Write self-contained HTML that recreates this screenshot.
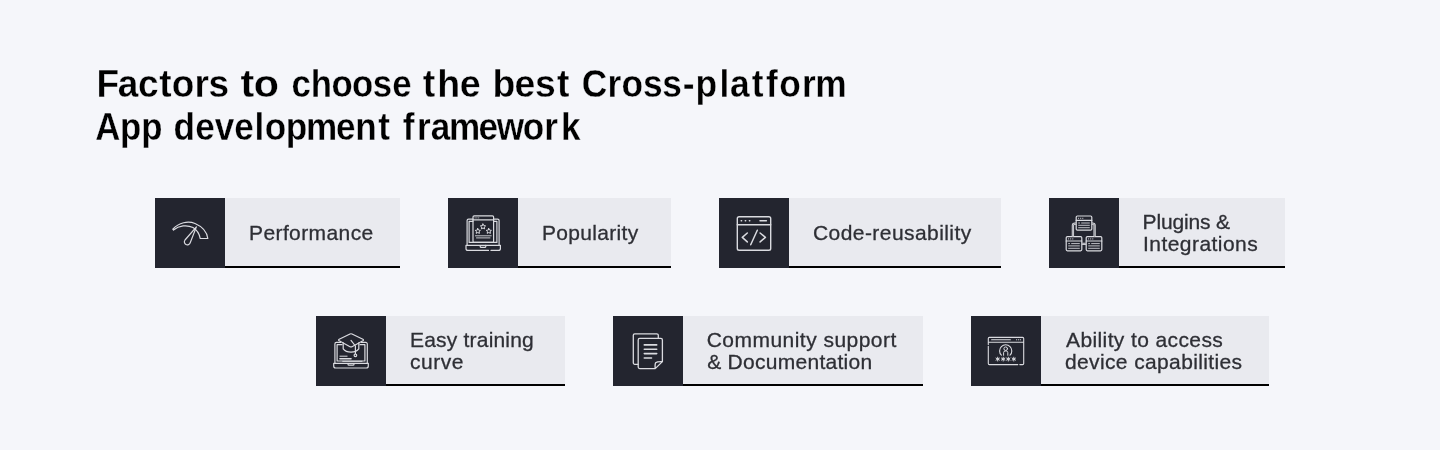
<!DOCTYPE html>
<html lang="en">
<head>
<meta charset="utf-8">
<title>Factors to choose the best Cross-platform App development framework</title>
<style>
*{box-sizing:border-box;margin:0;padding:0}
html,body{width:1440px;height:450px;overflow:hidden}
body{background:#f5f6fa;position:relative;font-family:"Liberation Sans",sans-serif;color:#2e2f35}
h2{position:absolute;left:0;top:0;width:1440px;height:160px;font-weight:700;font-size:38px;line-height:0}
h2 svg{display:block;overflow:visible;will-change:transform}
h2 text{font-family:"Liberation Sans",sans-serif;font-weight:700;font-size:38px;fill:#000;stroke:#f5f6fa;stroke-width:.3px}
.card{position:absolute;height:70px;display:flex;background:#e9eaef;border-bottom:2px solid #000}
.ico{width:70px;height:70px;background:#23252f;flex:none}
.ico svg{display:block;width:70px;height:70px;fill:none;stroke:#dadbe0;stroke-width:1.2;stroke-linecap:round;stroke-linejoin:round}
.txt{-webkit-text-stroke:.3px #2e2f35;position:relative;flex:1;height:68px;font-size:21px;line-height:22px;white-space:nowrap;will-change:transform}
.txt span{position:absolute;display:block}
</style>
</head>
<body>
<h2><svg width="1440" height="160" viewBox="0 0 1440 160">
<text transform="translate(0 97) scale(0.974 1)" x="99.0 120.9 141.6 163.5 176.3 199.6 214.0">Factors</text>
<text transform="translate(0 97) scale(1.085 1)" x="221.7 233.8">to</text>
<text transform="translate(0 97) scale(0.915 1)" x="318.6 339.7 362.3 384.8 407.4 428.7">choose</text>
<text transform="translate(0 97) scale(0.989 1)" x="427.4 442.1 464.9">the</text>
<text transform="translate(0 97) scale(0.980 1)" x="502.5 524.9 546.0 568.5">best</text>
<text transform="translate(0 97) scale(0.930 1)" x="625.5 653.2 668.3 691.4 712.2 734.2 747.8 773.7 784.9 808.3 823.6 838.0 862.3 876.5">Cross-platform</text>
<text transform="translate(0 140) scale(0.915 1)" x="104.1 131.2 154.4">App</text>
<text transform="translate(0 140) scale(0.925 1)" x="187.6 211.0 232.3 253.2 275.2 286.2 308.9 330.8 363.3 384.0 408.8">development</text>
<text transform="translate(0 140) scale(0.925 1)" x="435.4 450.7 465.7 485.4 517.2 537.1 565.2 588.4 606.6">framework</text>
</svg></h2>

<div class="card" style="left:155px;top:198px;width:245px"><div class="ico"><svg viewBox="0 0 70 70">
<path d="M17.8 31.2C24 24.5 33 22.5 40 25.5C47 28.5 52 34 52.8 40.5L45.2 40.5C44.5 36 42 32 38 29.5C32 26.5 24 27.5 18.5 32Z"/>
<path d="M41.4 28.9L35.2 44.8A3 3 0 1 1 30 42Z"/>
</svg></div><div class="txt"><span style="left:24px;top:24px;letter-spacing:.4px">Performance</span></div></div>

<div class="card" style="left:448px;top:198px;width:223px"><div class="ico"><svg viewBox="0 0 70 70">
<path d="M25 21.1H20.6A1.5 1.5 0 0 0 19.1 22.6V47.2M45.6 21.1H49.6A1.5 1.5 0 0 1 51.1 22.6V47.2M25 23.3H21.1V44.4H48.9V23.3H45.6"/>
<rect x="25" y="17.8" width="20.6" height="26.6" rx="1.2"/>
<path d="M25 21.9H45.6"/><path d="M27.4 37.8H43.2M28.5 39.9H42" stroke-width=".9"/><path d="M27 19.9h.2M28.8 19.9h.2M30.6 19.9h.2" stroke-width=".9"/>
<path d="M18 47.3H52.4V50.4A2 2 0 0 1 50.4 52.4H43M40.5 52.4H20A2 2 0 0 1 18 50.4V47.3M32.2 47.3V48.4A1 1 0 0 0 33.2 49.4H36.8A1 1 0 0 0 37.8 48.4V47.2"/>
<g stroke-width="1"><path d="M35 26l.8 1.6 1.8.3-1.3 1.2.3 1.8-1.6-.9-1.6.9.3-1.8-1.3-1.2 1.8-.3Z"/><path d="M29.8 30.5l.8 1.6 1.8.3-1.3 1.2.3 1.8-1.6-.9-1.6.9.3-1.8-1.3-1.2 1.8-.3Z"/><path d="M40.8 30.5l.8 1.6 1.8.3-1.3 1.2.3 1.8-1.6-.9-1.6.9.3-1.8-1.3-1.2 1.8-.3Z"/></g>
</svg></div><div class="txt"><span style="left:24px;top:24px;letter-spacing:.32px">Popularity</span></div></div>

<div class="card" style="left:719px;top:198px;width:282px"><div class="ico"><svg viewBox="0 0 70 70">
<rect x="18.3" y="18.7" width="33.4" height="33.5" rx="1.8" stroke-width="1.4"/>
<path d="M18.3 26.7H51.7" stroke-width="1.4"/>
<path d="M22.2 22.8h.4M26.3 22.8h.4M30.4 22.8h.4M41 22.8H47.4" stroke-width="1.5"/>
<path d="M28.3 35L23.3 39.4L28.3 43.9M38.3 32.2L31.7 46.7M41.1 35L46.4 39.4L41.1 43.9" stroke-width="1.5"/>
</svg></div><div class="txt"><span style="left:24px;top:24px;letter-spacing:.43px">Code-reusability</span></div></div>

<div class="card" style="left:1049px;top:198px;width:236px"><div class="ico"><svg viewBox="0 0 70 70">
<g><rect x="27.2" y="18" width="15.6" height="14.2" rx="1.2"/><path d="M27.2 22.4H42.8"/><path d="M29.5 20.3h.2M31.6 20.3h.2M33.7 20.3h.2" stroke-width="1"/><path d="M29.6 25h1M32.6 25H40.4M29.6 27.3H40.4M29.6 29.7H40.4" stroke-width=".85"/></g>
<g transform="translate(-10 20.6)"><rect x="27.2" y="18" width="15.6" height="14.2" rx="1.2"/><path d="M27.2 22.4H42.8"/><path d="M29.5 20.3h.2M31.6 20.3h.2M33.7 20.3h.2" stroke-width="1"/><path d="M29.6 25h1M32.6 25H40.4M29.6 27.3H40.4M29.6 29.7H40.4" stroke-width=".85"/></g>
<g transform="translate(10 20.6)"><rect x="27.2" y="18" width="15.6" height="14.2" rx="1.2"/><path d="M27.2 22.4H42.8"/><path d="M29.5 20.3h.2M31.6 20.3h.2M33.7 20.3h.2" stroke-width="1"/><path d="M29.6 25h1M32.6 25H40.4M29.6 27.3H40.4M29.6 29.7H40.4" stroke-width=".85"/></g>
<path d="M27.2 25.6H25.9A2 2 0 0 0 23.9 27.6V38.7M42.8 25.6H43.6A2 2 0 0 1 45.6 27.6V38.7M32.8 45.8H37.2" stroke-width="2.3" stroke-linecap="butt"/>
<path d="M27.2 25.6H25.9A2 2 0 0 0 23.9 27.6V38.7M42.8 25.6H43.6A2 2 0 0 1 45.6 27.6V38.7M32.8 45.8H37.2" stroke="#23252f" stroke-width=".35" stroke-linecap="butt"/>
</svg></div><div class="txt"><span style="left:23.6px;top:13px;letter-spacing:-.15px">Plugins &amp;</span> <span style="left:24px;top:35px;letter-spacing:.45px">Integrations</span></div></div>

<div class="card" style="left:316px;top:316px;width:249px"><div class="ico"><svg viewBox="0 0 70 70">
<path d="M24.5 26.4H20.4A1.5 1.5 0 0 0 18.9 27.9V47.2M45.5 26.4H49.8A1.5 1.5 0 0 1 51.3 27.9V47.2M26 28.7H21.1V45H48.9V28.7H44"/>
<path d="M17.7 47.3H52.3V50A2 2 0 0 1 50.3 52H19.7A2 2 0 0 1 17.7 50ZM32 47.3V48.2A1 1 0 0 0 33 49.2H37A1 1 0 0 0 38 48.2V47.3"/>
<path d="M34 18L23.2 23.2Q22 23.9 23.2 24.7L34 30.7Q35 31.2 36 30.7L46.9 24.7Q48 23.9 46.9 23.2L36 18Q35 17.5 34 18Z"/>
<path d="M27.2 26.8V32.8C29 35.2 32 36.1 35 36.1C38 36.1 41 35.2 42.8 32.8V26.8"/>
<path d="M35 24.4L39.4 30V37.8"/><circle cx="39.4" cy="39.3" r="1.3"/>
<path d="M23.9 40.2H31.1M26.7 45.3H46" stroke-width="1"/><path d="M23.9 42.8H35" stroke-width="1.6"/>
</svg></div><div class="txt"><span style="left:24px;top:13px;letter-spacing:.2px">Easy training</span> <span style="left:24px;top:35px;letter-spacing:.55px">curve</span></div></div>

<div class="card" style="left:613px;top:316px;width:310px"><div class="ico"><svg viewBox="0 0 70 70">
<path d="M25.2 48.3H21.8A1.5 1.5 0 0 1 20.3 46.8V19.3A1.5 1.5 0 0 1 21.8 17.8H43.8A1.5 1.5 0 0 1 45.3 19.3V22.4" stroke-width="1.3"/>
<path d="M42.2 52.6H26.7A1.5 1.5 0 0 1 25.2 51.1V23.9A1.5 1.5 0 0 1 26.7 22.4H47.9A1.5 1.5 0 0 1 49.4 23.9V45.6ZM49.4 45.6C46 45.4 43.5 46 42.6 46.8C42 47.8 42 50 42.2 52.6" stroke-width="1.3"/>
<path d="M31.3 28.9H43.7M31.3 33.3H43.7M31.3 37.6H43.7M31.3 42H38.5" stroke-width="1.6"/>
</svg></div><div class="txt"><span style="left:23.7px;top:13px;letter-spacing:.47px">Community support</span> <span style="left:24.2px;top:35px;letter-spacing:.28px">&amp; Documentation</span></div></div>

<div class="card" style="left:971px;top:316px;width:298px"><div class="ico"><svg viewBox="0 0 70 70">
<path d="M17.3 28.4V22.5A1.1 1.1 0 0 1 18.4 21.4H51.6A1.1 1.1 0 0 1 52.7 22.5V47.5A1.1 1.1 0 0 1 51.6 48.6H48.8M46.8 48.6H18.4A1.1 1.1 0 0 1 17.3 47.5V30.2M17.3 26.3H52.7" stroke-width="1.1"/>
<path d="M20.6 23.7H39.4M45.5 23.7h.2M47.5 23.7h.2M49.4 23.7h.2" stroke-width="1.1"/>
<path d="M30.4 39.2A6.1 6.1 0 1 1 39 39.2" stroke-width="1.1"/>
<circle cx="34.7" cy="32.7" r="1.8" stroke-width="1"/><path d="M32.6 39.3V36.6A1.6 1.6 0 0 1 34.2 35H35.2A1.6 1.6 0 0 1 36.8 36.6V39.3" stroke-width="1"/>
<g stroke-width="1"><path d="M26.7 41.2V45M25 42.1L28.4 44.1M25 44.1L28.4 42.1"/><path transform="translate(5.5 0)" d="M26.7 41.2V45M25 42.1L28.4 44.1M25 44.1L28.4 42.1"/><path transform="translate(10.6 0)" d="M26.7 41.2V45M25 42.1L28.4 44.1M25 44.1L28.4 42.1"/><path transform="translate(16.1 0)" d="M26.7 41.2V45M25 42.1L28.4 44.1M25 44.1L28.4 42.1"/></g>
</svg></div><div class="txt"><span style="left:25px;top:13px;letter-spacing:.39px">Ability to access</span> <span style="left:24px;top:35px;letter-spacing:.37px">device capabilities</span></div></div>
</body>
</html>
